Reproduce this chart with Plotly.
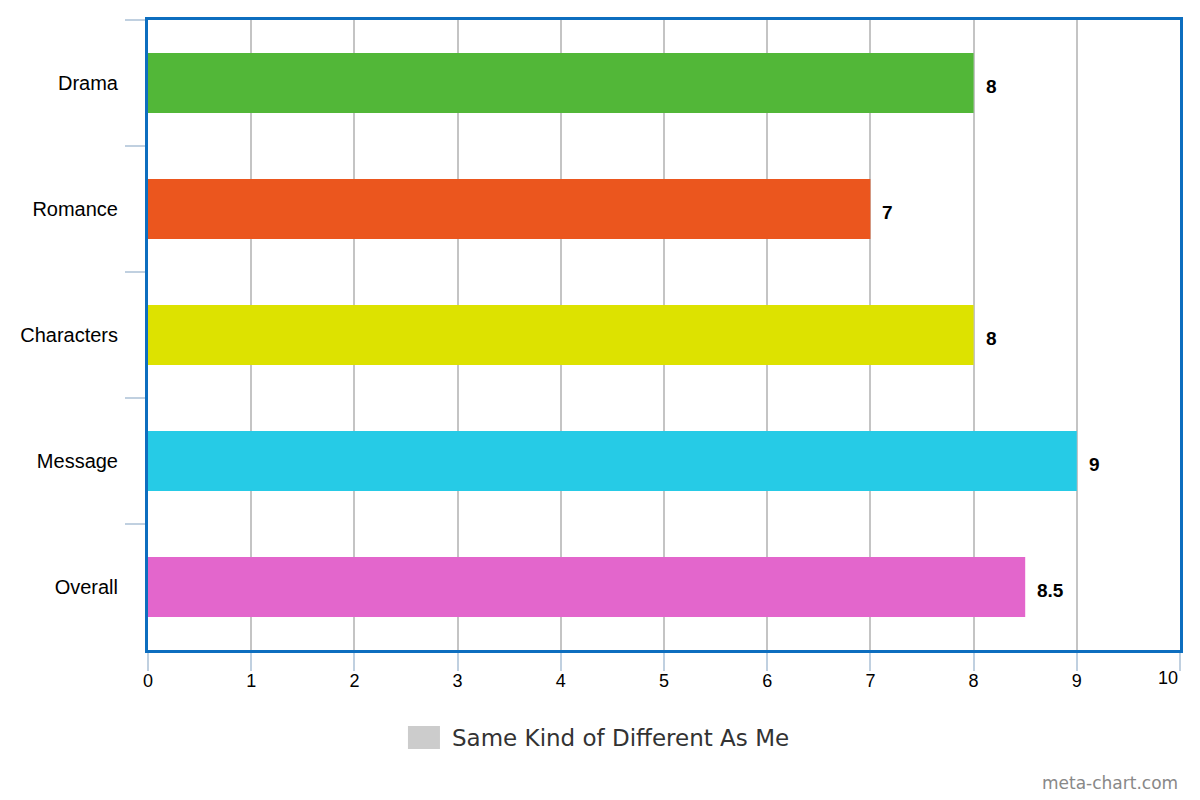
import plotly.graph_objects as go

categories = ["Drama", "Romance", "Characters", "Message", "Overall"]
values = [8, 7, 8, 9, 8.5]
colors = ["#52b738", "#eb561e", "#dde200", "#26cbe6", "#e366cc"]
value_labels = ["8", "7", "8", "9", "8.5"]
series_name = "Same Kind of Different As Me"
x_ticks = list(range(0, 11))

fig = go.Figure()
fig.add_trace(go.Bar(
    y=categories, x=values, orientation="h",
    marker=dict(color=colors, line=dict(width=0)),
    width=0.476, showlegend=False, hoverinfo="x+y",
))

for c, v, t in zip(categories, values, value_labels):
    fig.add_annotation(x=v, y=c, text="<b>%s</b>" % t, showarrow=False,
                       xanchor="left", xshift=10, yshift=-3,
                       font=dict(family="Liberation Sans, Arial", size=19, color="#000"))

# last x tick label is right-aligned to the axis end in the reference
fig.add_annotation(x=x_ticks[-1], xref="x", yref="paper", y=-0.0445, text=str(x_ticks[-1]),
                   showarrow=False, xanchor="right", yanchor="middle",
                   font=dict(family="Liberation Sans, Arial", size=18, color="#000"))

# legend drawn as shape + text
fig.add_shape(type="rect", xref="paper", yref="paper",
              x0=0.2519, x1=0.2829, y0=-0.1206, y1=-0.1571,
              fillcolor="#cccccc", line=dict(width=0))
fig.add_annotation(xref="paper", yref="paper", x=0.2926, y=-0.1397,
                   text=series_name, showarrow=False, xanchor="left", yanchor="middle",
                   font=dict(family="DejaVu Sans", size=23, color="#333333"))
fig.add_annotation(xref="paper", yref="paper", x=1.0, y=-0.211,
                   text="meta-chart.com", showarrow=False, xanchor="right", yanchor="middle",
                   font=dict(family="DejaVu Sans", size=17, color="#888888"))

tick_text = [str(t) for t in x_ticks[:-1]] + [""]

fig.update_layout(
    width=1200, height=800,
    margin=dict(l=148, r=20, t=20, b=150),
    paper_bgcolor="white", plot_bgcolor="white",
    showlegend=False,
    xaxis=dict(range=[0, 10], tickvals=x_ticks, ticktext=tick_text,
               showgrid=True, gridcolor="#c4c4c4", gridwidth=2,
               zeroline=False, showline=True, mirror=True, linecolor="#0d6ebf", linewidth=3,
               ticks="outside", ticklen=18, tickcolor="#c0d0e0", tickwidth=2,
               ticklabelstandoff=-6,
               tickfont=dict(family="Liberation Sans, Arial", size=18, color="#000")),
    yaxis=dict(categoryorder="array", categoryarray=categories, autorange="reversed",
               showgrid=False, zeroline=False, showline=True, mirror=True,
               linecolor="#0d6ebf", linewidth=3,
               ticks="outside", tickson="boundaries", ticklen=20, tickcolor="#c0d0e0", tickwidth=2,
               ticklabelstandoff=23,
               tickfont=dict(family="Liberation Sans, Arial", size=20, color="#000")),
)

fig.write_html("out.html")
